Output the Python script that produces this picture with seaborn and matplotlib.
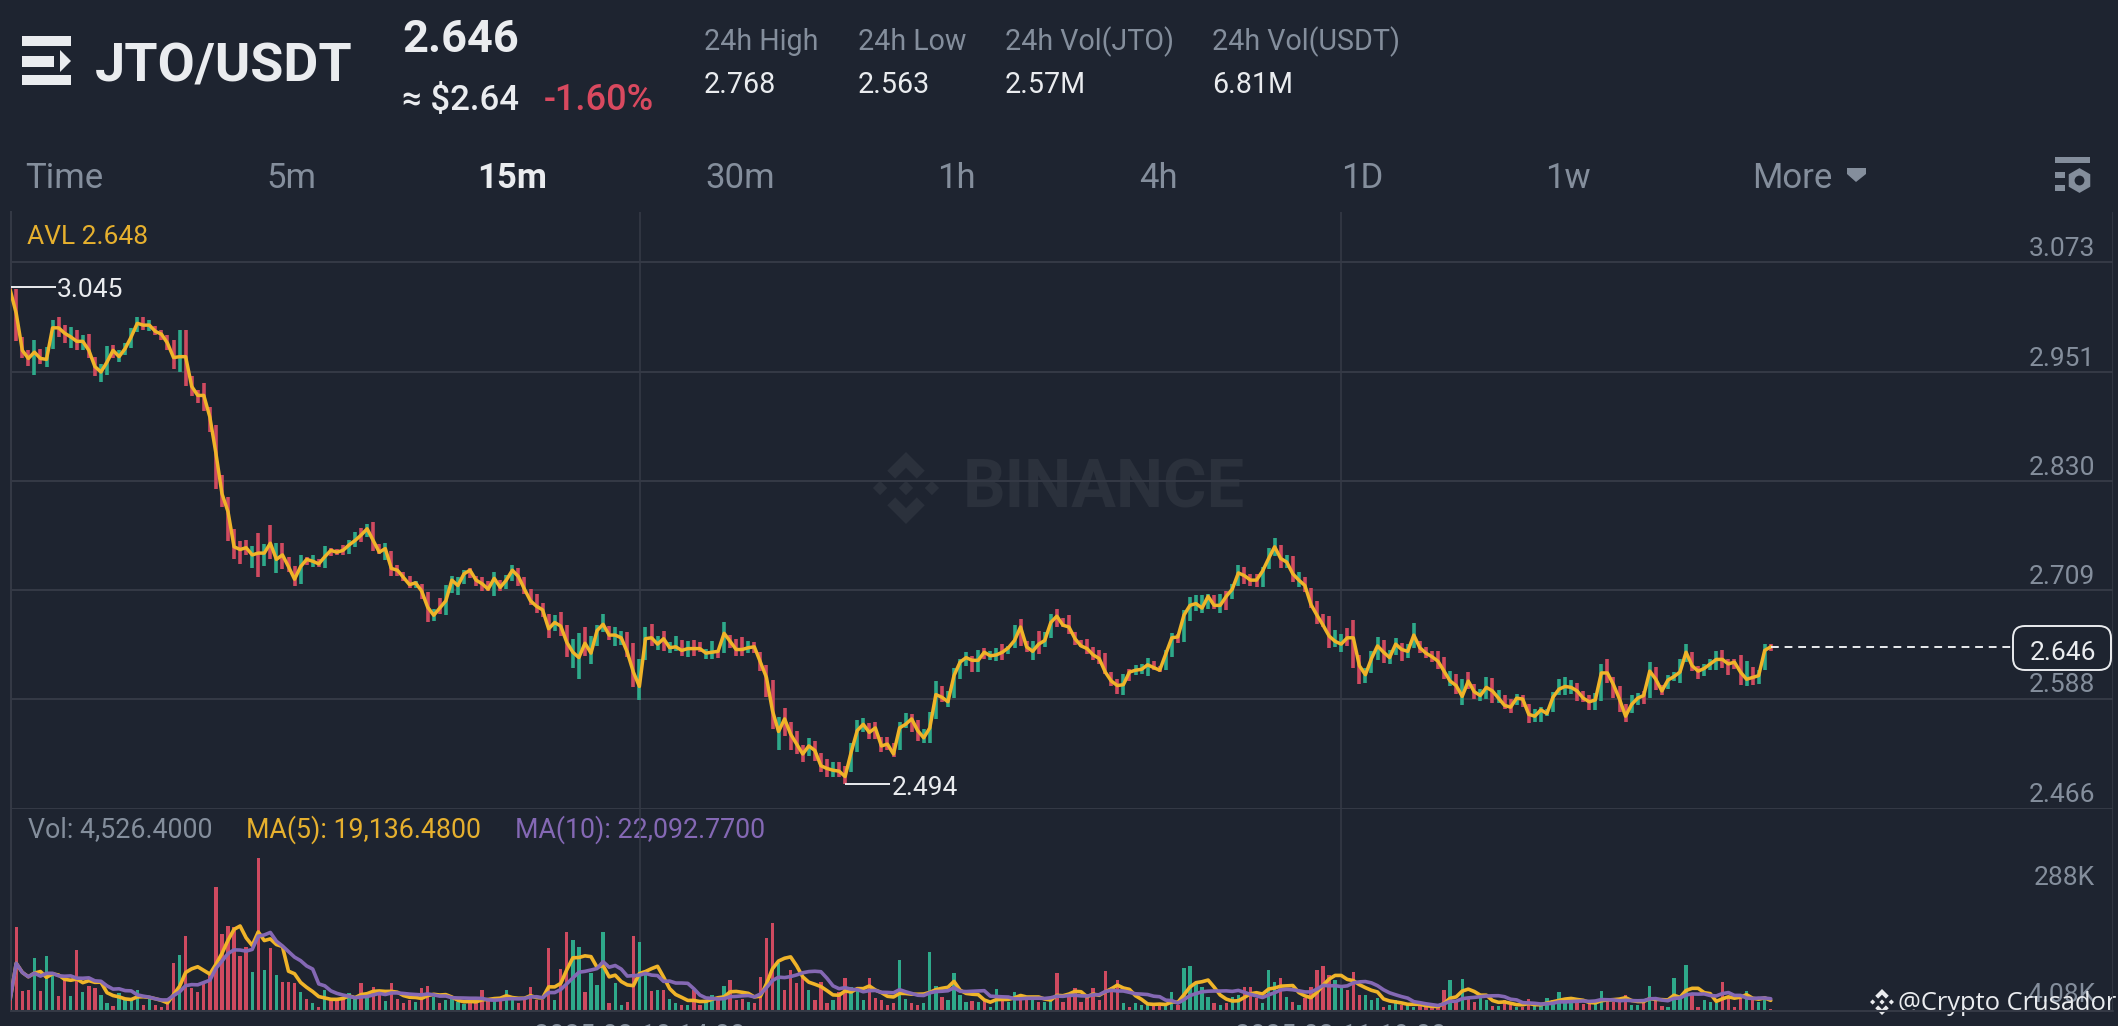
# JTO/USDT 15m chart screen, candles with close line and volume panel

import matplotlib
matplotlib.use("Agg")
import matplotlib.pyplot as plt
from matplotlib.patches import FancyBboxPatch, Polygon, Rectangle
import pandas as pd
import seaborn as sns

# 1. Values
close = [
    3.042, 3.016, 2.975, 2.966, 2.973, 2.966, 2.965, 3.000, 3.000, 2.994,
    2.990, 2.985, 2.985, 2.975, 2.957, 2.951, 2.962, 2.975, 2.968, 2.977,
    2.990, 3.005, 3.003, 3.003, 2.996, 2.993, 2.983, 2.967, 2.968, 2.968,
    2.935, 2.925, 2.925, 2.901, 2.861, 2.816, 2.796, 2.757, 2.754, 2.756,
    2.748, 2.750, 2.750, 2.761, 2.743, 2.748, 2.735, 2.721, 2.735, 2.743,
    2.741, 2.738, 2.746, 2.753, 2.751, 2.753, 2.759, 2.764, 2.770, 2.777,
    2.764, 2.751, 2.755, 2.733, 2.731, 2.723, 2.715, 2.717, 2.708, 2.690,
    2.681, 2.689, 2.697, 2.720, 2.714, 2.727, 2.731, 2.720, 2.716, 2.710,
    2.722, 2.712, 2.720, 2.731, 2.724, 2.710, 2.697, 2.691, 2.687, 2.666,
    2.673, 2.669, 2.651, 2.640, 2.634, 2.650, 2.639, 2.664, 2.671, 2.659,
    2.659, 2.656, 2.640, 2.618, 2.602, 2.655, 2.656, 2.649, 2.655, 2.645,
    2.646, 2.642, 2.644, 2.644, 2.644, 2.639, 2.640, 2.641, 2.661, 2.652,
    2.643, 2.643, 2.645, 2.646, 2.629, 2.612, 2.575, 2.552, 2.566, 2.549,
    2.538, 2.527, 2.536, 2.531, 2.514, 2.511, 2.509, 2.508, 2.502, 2.529,
    2.553, 2.560, 2.551, 2.556, 2.536, 2.538, 2.527, 2.556, 2.560, 2.566,
    2.553, 2.545, 2.556, 2.593, 2.590, 2.585, 2.614, 2.629, 2.634, 2.631,
    2.631, 2.640, 2.636, 2.637, 2.640, 2.645, 2.653, 2.668, 2.646, 2.641,
    2.649, 2.653, 2.673, 2.680, 2.670, 2.668, 2.655, 2.647, 2.644, 2.637,
    2.633, 2.618, 2.608, 2.603, 2.604, 2.618, 2.620, 2.621, 2.626, 2.623,
    2.620, 2.638, 2.656, 2.657, 2.681, 2.692, 2.694, 2.689, 2.702, 2.692,
    2.692, 2.702, 2.710, 2.728, 2.725, 2.720, 2.720, 2.730, 2.744, 2.757,
    2.744, 2.740, 2.727, 2.720, 2.714, 2.693, 2.681, 2.670, 2.658, 2.652,
    2.649, 2.656, 2.656, 2.625, 2.615, 2.633, 2.647, 2.640, 2.634, 2.649,
    2.643, 2.641, 2.659, 2.645, 2.639, 2.635, 2.630, 2.619, 2.608, 2.603,
    2.591, 2.608, 2.596, 2.592, 2.601, 2.597, 2.589, 2.581, 2.579, 2.589,
    2.588, 2.571, 2.569, 2.576, 2.572, 2.590, 2.599, 2.602, 2.601, 2.597,
    2.589, 2.585, 2.587, 2.617, 2.617, 2.604, 2.588, 2.569, 2.582, 2.589,
    2.592, 2.619, 2.610, 2.597, 2.609, 2.613, 2.618, 2.640, 2.625, 2.619,
    2.622, 2.627, 2.632, 2.632, 2.627, 2.629, 2.618, 2.610, 2.612, 2.614,
    2.642, 2.646,
]
high = [
    3.045, 3.043, 2.990, 2.975, 2.987, 2.976, 2.979, 3.009, 3.012, 3.003,
    3.001, 2.998, 2.992, 2.993, 2.968, 2.960, 2.980, 2.981, 2.975, 2.983,
    3.000, 3.012, 3.012, 3.009, 3.002, 2.998, 2.992, 2.986, 2.998, 2.998,
    2.946, 2.931, 2.939, 2.912, 2.892, 2.837, 2.812, 2.777, 2.763, 2.764,
    2.758, 2.772, 2.760, 2.781, 2.761, 2.761, 2.746, 2.736, 2.748, 2.746,
    2.748, 2.744, 2.758, 2.756, 2.755, 2.759, 2.764, 2.773, 2.778, 2.782,
    2.784, 2.760, 2.761, 2.752, 2.737, 2.729, 2.725, 2.719, 2.716, 2.707,
    2.688, 2.700, 2.715, 2.725, 2.724, 2.731, 2.734, 2.725, 2.724, 2.719,
    2.729, 2.720, 2.726, 2.737, 2.733, 2.724, 2.710, 2.705, 2.695, 2.682,
    2.681, 2.685, 2.670, 2.655, 2.661, 2.668, 2.658, 2.670, 2.682, 2.669,
    2.668, 2.664, 2.662, 2.650, 2.632, 2.668, 2.671, 2.658, 2.663, 2.651,
    2.658, 2.654, 2.652, 2.654, 2.651, 2.644, 2.653, 2.643, 2.674, 2.659,
    2.655, 2.657, 2.653, 2.651, 2.640, 2.626, 2.609, 2.568, 2.578, 2.562,
    2.553, 2.537, 2.545, 2.541, 2.528, 2.522, 2.518, 2.518, 2.514, 2.539,
    2.565, 2.567, 2.561, 2.562, 2.546, 2.546, 2.539, 2.563, 2.573, 2.571,
    2.565, 2.555, 2.574, 2.608, 2.603, 2.597, 2.623, 2.633, 2.640, 2.636,
    2.642, 2.645, 2.641, 2.645, 2.649, 2.647, 2.670, 2.677, 2.653, 2.653,
    2.663, 2.662, 2.682, 2.688, 2.678, 2.681, 2.662, 2.654, 2.655, 2.646,
    2.643, 2.639, 2.618, 2.610, 2.616, 2.621, 2.626, 2.627, 2.634, 2.630,
    2.625, 2.642, 2.661, 2.660, 2.687, 2.701, 2.704, 2.704, 2.705, 2.703,
    2.705, 2.708, 2.716, 2.737, 2.735, 2.727, 2.727, 2.735, 2.756, 2.767,
    2.759, 2.748, 2.747, 2.729, 2.723, 2.711, 2.697, 2.682, 2.680, 2.665,
    2.660, 2.667, 2.676, 2.637, 2.623, 2.641, 2.657, 2.654, 2.642, 2.656,
    2.650, 2.649, 2.672, 2.653, 2.646, 2.641, 2.641, 2.635, 2.619, 2.616,
    2.610, 2.618, 2.605, 2.599, 2.613, 2.611, 2.598, 2.593, 2.588, 2.594,
    2.592, 2.582, 2.577, 2.579, 2.577, 2.596, 2.610, 2.613, 2.609, 2.606,
    2.597, 2.593, 2.595, 2.627, 2.632, 2.613, 2.603, 2.582, 2.593, 2.595,
    2.597, 2.629, 2.624, 2.604, 2.615, 2.618, 2.632, 2.649, 2.640, 2.625,
    2.627, 2.633, 2.641, 2.642, 2.632, 2.633, 2.637, 2.630, 2.624, 2.620,
    2.649, 2.649,
]
low = [
    3.042, 2.985, 2.966, 2.958, 2.948, 2.960, 2.956, 2.977, 2.990, 2.983,
    2.978, 2.975, 2.975, 2.966, 2.946, 2.940, 2.948, 2.966, 2.962, 2.970,
    2.978, 2.995, 2.998, 2.997, 2.992, 2.987, 2.975, 2.954, 2.951, 2.935,
    2.924, 2.917, 2.908, 2.884, 2.821, 2.801, 2.763, 2.744, 2.738, 2.748,
    2.734, 2.723, 2.736, 2.744, 2.728, 2.732, 2.729, 2.714, 2.716, 2.737,
    2.735, 2.735, 2.733, 2.747, 2.748, 2.748, 2.749, 2.757, 2.762, 2.768,
    2.752, 2.749, 2.742, 2.725, 2.725, 2.719, 2.711, 2.711, 2.699, 2.674,
    2.675, 2.682, 2.681, 2.706, 2.703, 2.716, 2.722, 2.713, 2.708, 2.708,
    2.702, 2.708, 2.710, 2.719, 2.714, 2.705, 2.692, 2.683, 2.679, 2.656,
    2.663, 2.658, 2.635, 2.622, 2.610, 2.636, 2.627, 2.647, 2.662, 2.654,
    2.647, 2.648, 2.635, 2.601, 2.587, 2.631, 2.647, 2.642, 2.641, 2.639,
    2.641, 2.636, 2.635, 2.636, 2.640, 2.632, 2.633, 2.634, 2.639, 2.645,
    2.636, 2.636, 2.639, 2.639, 2.619, 2.590, 2.555, 2.532, 2.547, 2.531,
    2.527, 2.518, 2.525, 2.519, 2.507, 2.501, 2.502, 2.501, 2.494, 2.507,
    2.529, 2.551, 2.544, 2.544, 2.529, 2.531, 2.524, 2.531, 2.556, 2.551,
    2.541, 2.539, 2.539, 2.566, 2.585, 2.579, 2.589, 2.610, 2.625, 2.618,
    2.618, 2.632, 2.631, 2.630, 2.631, 2.638, 2.645, 2.647, 2.640, 2.631,
    2.638, 2.646, 2.656, 2.668, 2.668, 2.660, 2.648, 2.646, 2.638, 2.631,
    2.627, 2.616, 2.603, 2.594, 2.592, 2.608, 2.615, 2.616, 2.614, 2.620,
    2.618, 2.620, 2.635, 2.650, 2.651, 2.675, 2.686, 2.683, 2.688, 2.688,
    2.684, 2.687, 2.699, 2.714, 2.716, 2.713, 2.712, 2.712, 2.732, 2.747,
    2.734, 2.734, 2.718, 2.712, 2.707, 2.689, 2.671, 2.668, 2.645, 2.646,
    2.640, 2.647, 2.623, 2.605, 2.606, 2.617, 2.631, 2.628, 2.627, 2.637,
    2.630, 2.634, 2.645, 2.639, 2.634, 2.629, 2.621, 2.610, 2.602, 2.594,
    2.581, 2.599, 2.588, 2.586, 2.588, 2.584, 2.584, 2.577, 2.573, 2.581,
    2.579, 2.561, 2.563, 2.563, 2.569, 2.574, 2.592, 2.593, 2.594, 2.586,
    2.585, 2.576, 2.576, 2.586, 2.606, 2.589, 2.574, 2.563, 2.573, 2.581,
    2.582, 2.589, 2.598, 2.593, 2.599, 2.608, 2.606, 2.629, 2.619, 2.610,
    2.614, 2.620, 2.620, 2.623, 2.615, 2.621, 2.604, 2.603, 2.604, 2.605,
    2.620, 2.641,
]
# volume in thousands of JTO
volume = [
    30, 210, 51, 53, 132, 50, 137, 95, 38, 78,
    38, 153, 49, 63, 57, 40, 21, 13, 46, 32,
    32, 54, 15, 38, 15, 11, 23, 120, 141, 189,
    57, 49, 74, 95, 311, 194, 214, 212, 137, 162,
    99, 384, 103, 158, 91, 74, 74, 71, 49, 29,
    21, 11, 54, 32, 28, 32, 44, 32, 70, 40,
    61, 49, 26, 71, 29, 19, 28, 23, 59, 64,
    36, 19, 28, 29, 23, 17, 23, 23, 54, 28,
    28, 28, 53, 32, 19, 28, 61, 28, 28, 158,
    28, 105, 199, 178, 162, 49, 95, 65, 199, 21,
    70, 15, 23, 189, 174, 95, 51, 53, 53, 29,
    21, 15, 15, 53, 15, 23, 40, 36, 64, 78,
    28, 29, 23, 19, 86, 183, 220, 120, 54, 103,
    70, 82, 53, 28, 74, 19, 28, 49, 82, 61,
    61, 28, 82, 32, 28, 15, 19, 128, 30, 19,
    15, 21, 149, 64, 36, 28, 95, 39, 23, 26,
    23, 28, 11, 55, 28, 23, 49, 40, 36, 28,
    23, 23, 28, 95, 23, 44, 57, 23, 32, 57,
    28, 101, 61, 78, 21, 11, 21, 15, 21, 15,
    15, 15, 49, 15, 109, 113, 70, 61, 36, 19,
    15, 19, 36, 40, 61, 61, 32, 19, 103, 74,
    84, 36, 23, 15, 32, 61, 103, 114, 91, 78,
    61, 53, 99, 40, 40, 28, 32, 11, 15, 28,
    15, 15, 11, 15, 11, 7, 11, 53, 78, 28,
    80, 36, 23, 32, 28, 13, 13, 28, 15, 11,
    11, 29, 13, 15, 32, 28, 47, 28, 23, 19,
    18, 19, 23, 50, 28, 23, 26, 40, 15, 15,
    23, 63, 29, 13, 11, 82, 36, 116, 40, 11,
    28, 23, 19, 72, 36, 11, 36, 50, 28, 23,
    28, 4.5,
]
direction = """
d d d d u d u u d d
u d u d d u u d u u
u u d u d d d d u d
d d d d d d d d d d
u d u d u d d d u d
u d u d d d u u d u
d d u d d d d u d d
u d u u u u d d d d
u d u u d d d d d d
u d d u u d u u u d
u u d d u u d u d u
u d u d d u u d u d
d d u d d d d u d d
d d u d d d u d d u
u u d d d d d u u d
d u u u d u u u u d
u d u u d u u d d u
d u u d d d d d d d
d d d d u d u u u d
d u u d u u u u u d
u d u u d d d u u u
d u d u d d d d d u
u d d d u u u d u u
d u u d d d d d u d
u d d u u d u d d u
d d u u u u u u u d
d d u u d d d d u u
d u d d u u u u d d
u u u d d d d u d u
u d
""".split()

price_levels = [3.073, 2.951, 2.830, 2.709, 2.588, 2.466]
volume_levels = [288, 4.08]
volume_labels = ["288K", "4.08K"]
last_price = 2.646
session_high = 3.045
session_low = 2.494

stat_titles = ["24h High", "24h Low", "24h Vol(JTO)", "24h Vol(USDT)"]
stat_values = ["2.768", "2.563", "2.57M", "6.81M"]
intervals = ["Time", "5m", "15m", "30m", "1h", "4h", "1D", "1w", "More"]

# 2. Colours
BG = "#1e2430"
GRID = "#343945"
GREY = "#848e9c"
WHITE = "#eaecef"
RED = "#cf4a60"
GREEN = "#2ea98a"
YELLOW = "#f0b429"
PURPLE = "#8468b4"
FAINT = "#2b313c"

sns.set_theme(style="dark")
plt.rcParams["font.family"] = ["Roboto", "DejaVu Sans"]

df = pd.DataFrame({
    "i": range(len(close)),
    "close": close,
    "high": high,
    "low": low,
    "volume": volume,
    "direction": direction,
})
df["ma5"] = df["volume"].rolling(5, min_periods=1).mean()
df["ma10"] = df["volume"].rolling(10, min_periods=1).mean()

W, H = 2118, 1026
fig = plt.figure(figsize=(W / 100, H / 100), dpi=100, facecolor=BG)


def px_axes(left, top, right, bottom, zorder):
    return fig.add_axes(
        [left / W, 1 - bottom / H, (right - left) / W, (bottom - top) / H],
        zorder=zorder,
    )


# the screen furniture lives on one full size axes in pixel units
ui = px_axes(0, 0, W, H, 0)
ui.set_xlim(0, W)
ui.set_ylim(H, 0)
ui.axis("off")

LEFT, RIGHT, TOP, MID, BOTTOM = 11, 2113, 212, 809, 1011
X_LOW = (LEFT - 10.2) / 6.05
X_HIGH = (RIGHT - 10.2) / 6.05

ax = px_axes(LEFT, TOP, RIGHT, MID, 2)
ax_vol = px_axes(LEFT, MID, RIGHT, BOTTOM, 2)

# 3. Candles and close line
for key, color in [("d", RED), ("u", GREEN)]:
    part = df[df["direction"] == key]
    ax.vlines(part["i"], part["low"], part["high"], color=color, lw=2.6, zorder=3)

sns.lineplot(data=df, x="i", y="close", color=YELLOW, lw=2.5, errorbar=None, ax=ax, zorder=4)

for level in price_levels:
    ax.axhline(level, color=GRID, lw=1.5, zorder=1)

ax.hlines(session_high, X_LOW, 7.6, color=WHITE, lw=1.4, zorder=5)
ax.hlines(session_low, 138, 145.4, color=WHITE, lw=1.4, zorder=5)
ax.hlines(last_price, 291, 331, color=WHITE, lw=1.4, linestyles=(0, (4, 3)), zorder=5)

# 4. Volume bars with moving averages
sns.barplot(
    data=df,
    x="i",
    y="volume",
    hue="direction",
    palette={"d": RED, "u": GREEN},
    native_scale=True,
    dodge=False,
    width=0.55,
    saturation=1,
    linewidth=0,
    errorbar=None,
    legend=False,
    ax=ax_vol,
    zorder=3,
)
sns.lineplot(data=df, x="i", y="ma5", color=YELLOW, lw=2.6, errorbar=None, ax=ax_vol, zorder=4)
sns.lineplot(data=df, x="i", y="ma10", color=PURPLE, lw=2.6, errorbar=None, ax=ax_vol, zorder=5)

for a in (ax, ax_vol):
    a.set_xlim(X_LOW, X_HIGH)
    a.patch.set_visible(False)
    a.grid(False)
    a.set_xlabel("")
    a.set_ylabel("")
    a.set_xticks([])
    a.set_yticks([])
    for side in ("top", "bottom", "right"):
        a.spines[side].set_visible(False)
    a.spines["left"].set_color(GRID)
    a.spines["left"].set_linewidth(1.5)
    # vertical time grid
    for gx in (104.1, 219.9):
        a.axvline(gx, color=GRID, lw=1.2, zorder=1)
    a.axvline(X_HIGH, color=GRID, lw=1.2, zorder=1)

ax.set_ylim(2.466, 3.073 + 50 / 900)
ax_vol.set_ylim(0, 507.6)
ax_vol.axhline(0, color=GRID, lw=1.5, zorder=6, clip_on=False)

# 5. Header
ui.add_patch(Rectangle((22, 36), 49, 10, color=WHITE, lw=0))
ui.add_patch(Rectangle((22, 56), 32, 11, color=WHITE, lw=0))
ui.add_patch(Rectangle((22, 75), 49, 10, color=WHITE, lw=0))
ui.add_patch(Polygon([(60, 50), (71, 61), (60, 72)], color=WHITE, lw=0))

ui.text(95, 67, "JTO/USDT", color=WHITE, fontsize=38.8, fontweight="bold", va="center")
ui.text(402, 40, "2.646", color=WHITE, fontsize=32.5, fontweight="bold", va="center")
ui.text(402, 100, "≈ $2.64", color=WHITE, fontsize=25, fontweight="medium", va="center")
ui.text(544, 100, "-1.60%", color="#d9495f", fontsize=26, fontweight="medium", va="center")

for x, title, value in zip([704, 858, 1005, 1212], stat_titles, stat_values):
    ui.text(x, 42, title, color=GREY, fontsize=20.6, va="center")
    ui.text(x, 85, value, color=WHITE, fontsize=20.6, va="center")

tab_x = [25, 266, 477, 705, 937, 1139, 1341, 1545, 1752]
for x, label in zip(tab_x, intervals):
    color = WHITE if label == "15m" else GREY
    weight = "bold" if label == "15m" else "normal"
    ui.text(x, 179, label, color=color, fontsize=25, fontweight=weight, va="center")

ui.add_patch(Polygon([(1847, 168), (1866, 168), (1866, 174), (1856, 182), (1847, 174)], color=GREY, lw=0))
ui.add_patch(Rectangle((2055, 157), 35, 6, color=GREY, lw=0))
ui.add_patch(Rectangle((2055, 172), 10, 6, color=GREY, lw=0))
ui.add_patch(Rectangle((2055, 185), 10, 6, color=GREY, lw=0))
ui.scatter([2079], [180], s=320, marker="h", color=GREY, lw=0)
ui.scatter([2079], [180], s=50, marker="o", color=BG, lw=0)

# 6. Labels on the chart
ui.text(27, 237, "AVL 2.648", color="#e6b02e", fontsize=19, va="center")
ui.text(57, 290, "3.045", color=WHITE, fontsize=19, va="center")
ui.text(892, 788, "2.494", color=WHITE, fontsize=19, va="center")

for level in price_levels:
    y = TOP + (3.073 + 50 / 900 - level) * 900
    ui.text(2095, y - 13, f"{level:.3f}", color=GREY, fontsize=19, ha="right", va="center")

ui.text(28, 830, "Vol: 4,526.4000", color=GREY, fontsize=19.3, va="center")
ui.text(246, 830, "MA(5): 19,136.4800", color="#e6b02e", fontsize=19.3, va="center")
ui.text(515, 830, "MA(10): 22,092.7700", color=PURPLE, fontsize=19.3, va="center")

for level, label, y in zip(volume_levels, volume_labels, [878, 995]):
    ui.text(2095, y, label, color=GREY, fontsize=19, ha="right", va="center")

ui.add_patch(Rectangle((2013, 626), 100, 44, fc=BG, ec=BG, lw=0, zorder=5))
ui.add_patch(FancyBboxPatch(
    (2023, 636), 78, 24,
    boxstyle="round,pad=10,rounding_size=12",
    fc=BG, ec=WHITE, lw=1.4, zorder=6,
))
ui.text(2063, 653, "2.646", color=WHITE, fontsize=19, ha="center", va="center", zorder=7)

# date labels are cut by the bottom edge of the screenshot
for x, label in [(640, "2025-03-10 14:00"), (1341, "2025-03-11 19:00")]:
    ui.text(x, 1023, label, color=GREY, fontsize=19.5, ha="center", va="top", clip_on=True)


# 7. Binance marks
def binance_logo(cx, cy, size, color, zorder=1):
    small = 0.2
    shapes = [
        [(0, small), (small, 0), (0, -small), (-small, 0)],
        [(-0.72, small), (-0.72 + small, 0), (-0.72, -small), (-0.72 - small, 0)],
        [(0.72, small), (0.72 + small, 0), (0.72, -small), (0.72 - small, 0)],
        [(0, 1), (0.52, 0.48), (0.3, 0.26), (0, 0.56), (-0.3, 0.26), (-0.52, 0.48)],
        [(0, -1), (0.52, -0.48), (0.3, -0.26), (0, -0.56), (-0.3, -0.26), (-0.52, -0.48)],
    ]
    for shape in shapes:
        points = [(cx + px * size, cy + py * size) for px, py in shape]
        ui.add_patch(Polygon(points, color=color, lw=0, zorder=zorder))


binance_logo(906, 488, 36, FAINT)
ui.text(963, 490, "BINANCE", color=FAINT, fontsize=48, fontweight="bold", va="center", zorder=1)

binance_logo(1882, 1002, 13, WHITE, zorder=8)
ui.text(1898, 1003, "@Crypto Crusador", color=WHITE, fontsize=18.4, family="Open Sans", va="center", zorder=8)

fig.savefig("out.png", dpi=100, facecolor=BG)
